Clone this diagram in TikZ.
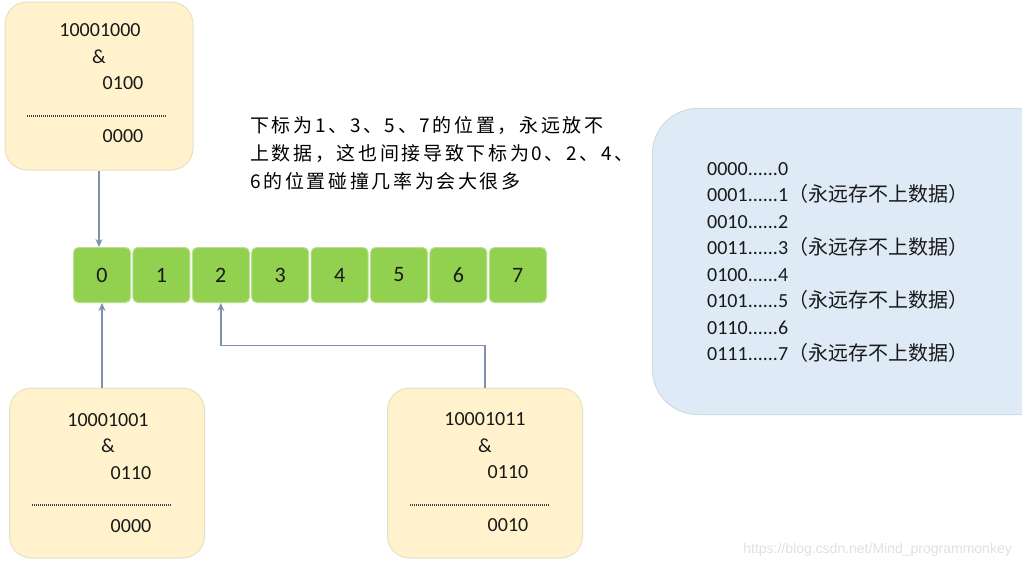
\documentclass[tikz,border=0pt]{standalone}
\usepackage{fontspec}
\setmainfont{Carlito}
\newfontfamily\cjk{Noto Sans CJK SC}
\newfontfamily\urlfont{Liberation Sans}
\usetikzlibrary{arrows.meta}
\definecolor{boxyellow}{HTML}{FFF2CC}
\definecolor{boxedge}{HTML}{E8DFC8}
\definecolor{cellgreen}{HTML}{92D050}
\definecolor{celledge}{HTML}{B8DF94}
\definecolor{boxblue}{HTML}{DEEBF7}
\definecolor{blueedge}{HTML}{D3DAE2}
\definecolor{arrowgray}{HTML}{7F90AA}
\tikzset{
  calc/.style={draw=boxedge, fill=boxyellow, line width=1pt, rounded corners=22pt,
    minimum width=195pt, minimum height=170pt},
  cell/.style={draw=celledge, fill=cellgreen, line width=1pt, rounded corners=5pt,
    minimum width=57pt, minimum height=55pt, text=black!90, font=\fontsize{22}{26}\selectfont},
  bits/.style={inner sep=0pt, text=black!90, font=\fontsize{20}{24}\selectfont},
  dots/.style={dash pattern=on 1pt off 1pt, line width=1.2pt, black!75},
  arr/.style={-{Stealth[length=8pt,width=7pt]}, arrowgray, line width=1.4pt},
}

\begin{document}
\begin{tikzpicture}[x=1pt,y=-1pt]
  \useasboundingbox (0,0) rectangle (1022,566);
  % slots of the table
  \foreach \i in {0,...,7}
    \node[cell] (c\i) at ({102+59.4*\i},275) {\i};

  % 10001000 & 0100
  \node[calc, minimum width=188pt, minimum height=168pt] (top) at (99,86) {};
  \node[bits] (top1) at (100,30) {10001000};
  \node[bits] (top2) at (99,57) {\&};
  \node[bits] (top3) at (123,83) {0100};
  \draw[dots] (27,116) -- (167,116);
  \node[bits] (top4) at (123,136) {0000};

  % 10001001 & 0110
  \node[calc] (left) at (107,473) {};
  \node[bits] (left1) at (108,420) {10001001};
  \node[bits] (left2) at (108,446) {\&};
  \node[bits] (left3) at (131,473) {0110};
  \draw[dots] (32,505) -- (172,505);
  \node[bits] (left4) at (131,526) {0000};

  % 10001011 & 0110
  \node[calc] (right) at (485,473) {};
  \node[bits] (right1) at (485,419) {10001011};
  \node[bits] (right2) at (485,446) {\&};
  \node[bits] (right3) at (508,472) {0110};
  \draw[dots] (410,505) -- (550,505);
  \node[bits] (right4) at (508,525) {0010};

  \draw[arr] (top.south) -- (top.south |- c0.north);
  \draw[arr] (c0 |- left.north) -- (c0.south);
  \draw[arr] (right.north) -- ++(0,-42) -| (c2.south);

  % remark
  \node[anchor=north west, align=left, inner sep=0pt,
    font=\cjk\addfontfeature{LetterSpace=14}\fontsize{19}{28}\selectfont]
    (remark) at (250,116) {下标为1、3、5、7的位置，永远放不\\上数据，这也间接导致下标为0、2、4、\\6的位置碰撞几率为会大很多};

  % index list
  \node[draw=blueedge, fill=boxblue, line width=1pt, rounded corners=45pt, anchor=north west,
    minimum width=420pt, minimum height=306pt] (list) at (652,108) {};
  \foreach \b/\n/\note [count=\k from 0] in {0000/0/, 0001/1/（永远存不上数据）, 0010/2/,
      0011/3/（永远存不上数据）, 0100/4/, 0101/5/（永远存不上数据）, 0110/6/, 0111/7/（永远存不上数据）}
    \node[bits, anchor=base west] (row\k) at (707,{175+26.5*\k}) {\b......\n{\cjk\note}};

  \node[anchor=base east, inner sep=0pt, text=black!12, font=\urlfont\fontsize{14}{16}\selectfont]
    (mark) at (1012,553) {https://blog.csdn.net/Mind\_programmonkey};
\end{tikzpicture}
\end{document}
